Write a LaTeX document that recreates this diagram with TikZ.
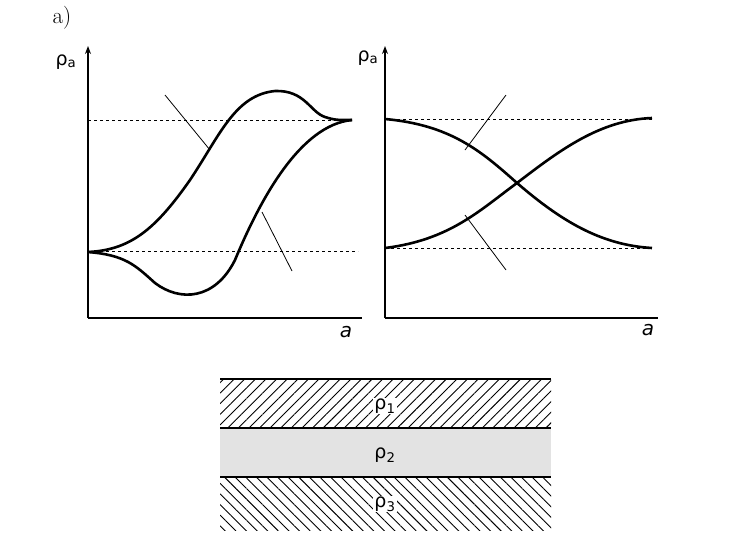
\documentclass[tikz,border=0pt]{standalone}
\usepackage{fontspec}
\newfontfamily\dvs{DejaVu Sans}
\usetikzlibrary{patterns.meta,arrows.meta}
\begin{document}
\begin{tikzpicture}[x=1pt,y=-1pt,
  ax/.style={line width=1.3pt,-{Stealth[length=8pt,width=6pt]}},
  crv/.style={line width=2.6pt},
  dsh/.style={dashed,line width=0.9pt},
  thin/.style={line width=0.8pt},
  lbl/.style={font=\dvs\fontsize{19}{19}\selectfont},
  bnd/.style={line width=2.2pt}]
\useasboundingbox (0,0) rectangle (753,539);
\node[font=\fontsize{23}{23}\selectfont] (t) at (62,18) {a)};
% left plot
\coordinate (o1) at (88,318);
\draw[ax] (o1) -- (88,46);
\draw[line width=1.3pt] (o1) -- (362,318);
\node[lbl] (ra1) at (66,62) {ρ\textsubscript{a}};
\node[lbl,font=\dvs\itshape\fontsize{20}{20}\selectfont] (a1) at (346,332) {a};
\draw[dsh] (88,120) -- (350,120);
\draw[dsh] (88,251) -- (358,251);
\draw[crv] (88,252) .. controls (130,250) and (155,230) .. (190,180)
  .. controls (220,135) and (235,95) .. (275,91)
  .. controls (305,90) and (310,112) .. (325,117) .. controls (335,120) .. (352,120);
\draw[crv] (88,252) .. controls (125,255) and (135,265) .. (155,283)
  .. controls (180,302) and (215,300) .. (235,260)
  .. controls (260,200) and (300,125) .. (352,120);
\draw[thin] (165,95) -- (210,150);
\draw[thin] (262,212) -- (292,271);
% right plot
\coordinate (o2) at (385,318);
\draw[ax] (o2) -- (385,46);
\draw[line width=1.3pt] (o2) -- (658,318);
\node[lbl] (ra2) at (368,58) {ρ\textsubscript{a}};
\node[lbl,font=\dvs\itshape\fontsize{20}{20}\selectfont] (a2) at (648,330) {a};
\draw[dsh] (385,119) -- (652,119);
\draw[dsh] (385,248) -- (652,248);
\draw[crv] (385,119) .. controls (450,125) and (480,150) .. (517,183)
  .. controls (560,220) and (600,245) .. (652,248);
\draw[crv] (385,248) .. controls (450,240) and (480,210) .. (517,183)
  .. controls (560,150) and (600,120) .. (652,118);
\draw[thin] (506,95) -- (465,150);
\draw[thin] (465,215) -- (506,270);
% layers
\fill[pattern={Lines[angle=45,distance=7.5pt,line width=0.9pt]}] (220,379) rectangle (551,428);
\fill[gray!22] (220,428) rectangle (551,477);
\fill[pattern={Lines[angle=-45,distance=7.5pt,line width=0.9pt]}] (220,477) rectangle (551,530);
\draw[bnd] (220,379) -- (551,379);
\draw[bnd] (220,428) -- (551,428);
\draw[bnd] (220,477) -- (551,477);
\node[lbl,fill=white,inner sep=1pt] (p1) at (385,406) {ρ\textsubscript{1}};
\node[lbl] (p2) at (385,455) {ρ\textsubscript{2}};
\node[lbl,fill=white,inner sep=1pt] (p3) at (385,504) {ρ\textsubscript{3}};
\end{tikzpicture}
\end{document}
